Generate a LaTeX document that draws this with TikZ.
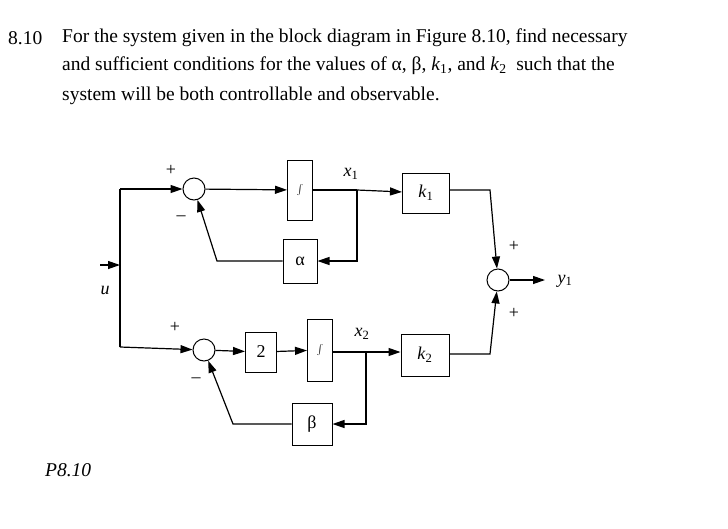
\documentclass[tikz,border=0pt]{standalone}
\usepackage{fontspec}
\setmainfont{Liberation Serif}
\usetikzlibrary{arrows.meta}
\newcommand{\vi}[2]{\textit{#1}\textsubscript{#2}}
\begin{document}
\begin{tikzpicture}[x=1pt,y=-1pt,
  every node/.style={font=\fontsize{18}{20}\selectfont},
  blk/.style={draw,line width=1pt,minimum width=#1,inner sep=0pt},
  sum/.style={draw,circle,line width=1pt,minimum size=22pt,inner sep=0pt},
  w/.style={line width=1.2pt},
  a/.style={w,-{Triangle[length=12pt,width=8pt]}},
  t/.style={font=\fontsize{19.5}{22}\selectfont,anchor=west,inner sep=0pt}]
\useasboundingbox (0,0) rectangle (728,528);
\node[t] (n) at (8,38) {8.10};
\node[t] (l1) at (62,38) {For the system given in the block diagram in Figure 8.10, find necessary};
\node[t] (l2) at (62,66) {and sufficient conditions for the values of α, β, \vi{k}{1}, and \vi{k}{2} \ such that the};
\node[t] (l3) at (62,96) {system will be both controllable and observable.};
\node[t] (p) at (45,470) {\itshape P8.10};
% blocks
\node[sum] (s1) at (194,189) {};
\node[blk=25pt,minimum height=60pt] (i1) at (300,190) {$\int$};
\node[blk=47pt,minimum height=40pt] (k1) at (426,193) {\vi{k}{1}};
\node[blk=34pt,minimum height=44pt] (al) at (300,261) {α};
\node[sum] (s2) at (204,350) {};
\node[blk=31pt,minimum height=40pt] (g2) at (261,352) {2};
\node[blk=25pt,minimum height=62pt] (i2) at (320,350) {$\int$};
\node[blk=48pt,minimum height=42pt] (k2) at (425,355) {\vi{k}{2}};
\node[blk=40pt,minimum height=42pt] (be) at (312,424) {β};
\node[sum] (s3) at (498,280) {};
\coordinate (u0) at (100,265);
\coordinate (uj) at (120,265);
\coordinate (b1) at (357,190);
\coordinate (b2) at (366,352);
\coordinate (yo) at (545,280);
% connectors
\draw[a] (u0) -- (uj);
\draw[w] (120,189) -- (120,347);
\draw[a] (120,189) -- (s1);
\draw[a] (120,347) -- (s2);
\draw[a] (s1) -- (i1);
\draw[w] (i1) -- (b1);
\draw[a] (b1) -- (k1);
\draw[a] (b1) |- (al);
\draw[a] (al.west) -- (217,261) -- (s1);
\draw[a] (s2) -- (g2);
\draw[a] (g2) -- (i2);
\draw[w] (i2.east|-b2) -- (b2);
\draw[a] (b2) -- (k2.west|-b2);
\draw[a] (b2) |- (be);
\draw[a] (be.west) -- (233,424) -- (s2);
\draw[a] (k1.east|-0,190) -- (490,190) -- (s3);
\draw[a] (k2.east|-0,354) -- (490,354) -- (s3);
\draw[a] (s3) -- (yo);
% labels
\node (lu) at (105,290) {\textit{u}};
\node (lx1) at (351,174) {\vi{x}{1}};
\node (lx2) at (362,334) {\vi{x}{2}};
\node (ly) at (565,281) {\vi{y}{1}};
\node (p1) at (171,170) {+};
\node (m1) at (181,218) {–};
\node (p2) at (175,327) {+};
\node (m2) at (196,380) {–};
\node (p3) at (514,246) {+};
\node (p4) at (514,313) {+};
\end{tikzpicture}
\end{document}
